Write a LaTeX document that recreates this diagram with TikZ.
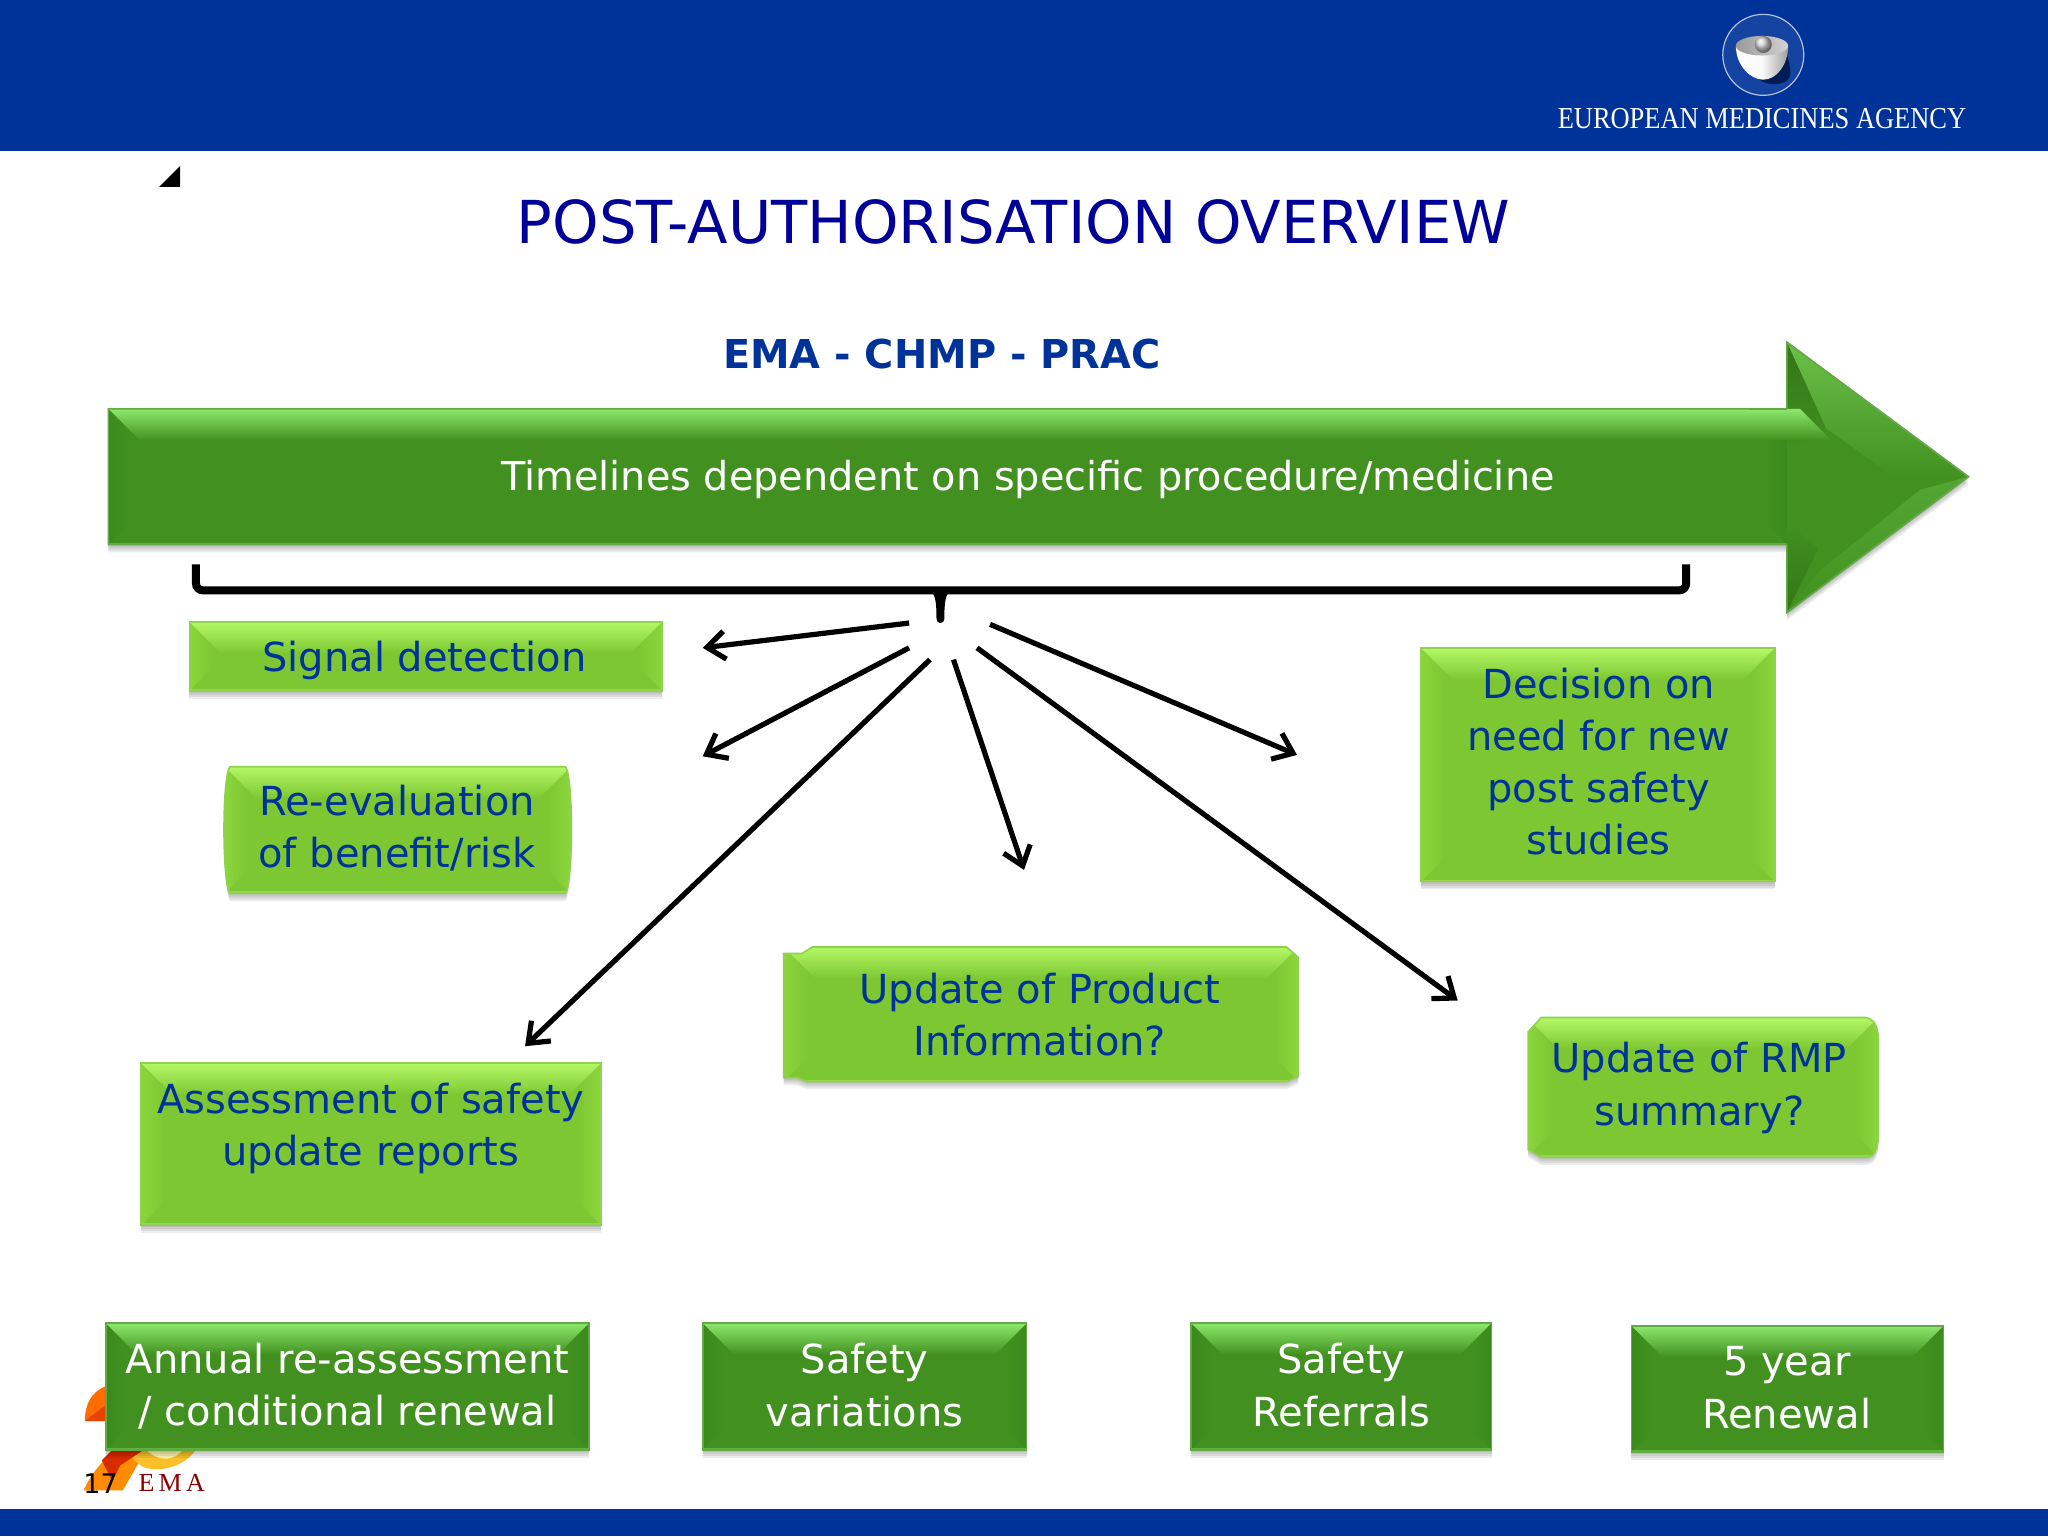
\documentclass[tikz,border=0pt]{standalone}
\usepackage{fontspec}
\setmainfont{DejaVu Sans}
\newfontfamily\logofont{Liberation Serif}
\usetikzlibrary{arrows.meta}
\definecolor{emablue}{HTML}{003399}
\definecolor{titleblue}{HTML}{000099}
\definecolor{brHi}{HTML}{B4F866}
\definecolor{brBase}{HTML}{7DC832}
\definecolor{brSide}{HTML}{8BD63C}
\definecolor{brEdge}{HTML}{8FD24E}
\definecolor{dkHi}{HTML}{8CE86C}
\definecolor{dkBase}{HTML}{429120}
\definecolor{dkSide}{HTML}{3B8A1D}
\definecolor{dkEdge}{HTML}{64A848}
\newcommand\bevelshape[6]{% outline, x1,y1,x2,y2, palette prefix
  \foreach \s in {1.5,3,4.5,6}{\fill[black,opacity=0.07,shift={(0,\s)}] #1;}
  \begin{scope}
    \clip #1;
    \fill[#6Base] (#2-5,#3-5) rectangle (#4+5,#5+5);
    \shade[left color=#6Side,right color=#6Base] (#2,#3) -- ({#2+18},{#3+18}) -- ({#2+18},{#5-18}) -- (#2,#5) -- cycle;
    \shade[right color=#6Side,left color=#6Base] (#4,#3) -- ({#4-18},{#3+18}) -- ({#4-18},{#5-18}) -- (#4,#5) -- cycle;
    \shade[top color=#6Hi,middle color=#6Hi!55!#6Base,bottom color=#6Base] (#2,#3) -- (#4,#3) -- ({#4-24},{#3+24}) -- ({#2+24},{#3+24}) -- cycle;
    \fill[#6Hi,opacity=0.4] (#2,#5-1.5) rectangle (#4,#5+4);
  \end{scope}
  \draw[#6Edge,line width=0.8pt] #1;
}
\newcommand\rectbox[5]{\bevelshape{(#1,#2) rectangle (#3,#4)}{#1}{#2}{#3}{#4}{#5}}
\tikzset{
  bluetext/.style={text=emablue,align=center,font=\fontsize{20pt}{26.1pt}\selectfont,inner sep=0pt},
  whitetext/.style={text=white,align=center,font=\fontsize{20pt}{26.1pt}\selectfont,inner sep=0pt},
  fanarrow/.style={draw=black,line width=2.6pt,-{Straight Barb[length=9pt,width=14pt,line width=2.6pt]}},
  brace/.style={draw=black,line width=4pt}
}
\begin{document}
\begin{tikzpicture}[x=0.65306pt,y=-0.65306pt]
\useasboundingbox (0,0) rectangle (1568,1176);
\fill[white] (0,0) rectangle (1568,1176);
% bands
\fill[emablue] (0,0) rectangle (1568,115.5);
\fill[emablue] (0,1155) rectangle (1568,1176);
% top logo
\draw[draw=white!70!emablue,fill=emablue!92!white,line width=0.6pt] (1350,42) circle (31);
\fill[emablue!55!black] (1368,42) .. controls (1372,54) and (1372,60) .. (1366,63) .. controls (1358,66) and (1350,64) .. (1346,60) -- cycle;
\shade[left color=white,right color=gray!75,middle color=white!95!gray] (1329,35) .. controls (1329,50) and (1340,61) .. (1350,61) .. controls (1360,61) and (1369,50) .. (1369,35) -- cycle;
\shade[left color=gray!80,right color=gray!35] (1349,35) ellipse (20 and 7.5);
\shade[ball color=gray!35] (1350,34) circle (6.5);
\node (emalogo) at (1349,91) [text=white,inner sep=0pt,xscale=0.87,transform shape,font=\logofont\fontsize{15.2pt}{16pt}\selectfont] {EUROPEAN MEDICINES AGENCY};
% small triangle
\fill[black] (138,127) -- (138,143) -- (122,143) -- cycle;
% title
\node (title) at (776,170) [text=titleblue,inner sep=0pt,font=\fontsize{29.6pt}{32pt}\selectfont] {POST-AUTHORISATION OVERVIEW};
\node (org) at (721,271) [text=emablue,inner sep=0pt,font=\bfseries\fontsize{19.9pt}{24pt}\selectfont] {EMA - CHMP - PRAC};
% bottom-left logo
\fill[orange!85!red] (65,1088) .. controls (65,1075) and (70,1065) .. (82,1061) -- (82,1088) -- cycle;
\fill[orange!60!red!90!black] (65,1088) -- (82,1075) -- (82,1088) -- cycle;
\fill[orange!90!yellow] (64,1141) .. controls (70,1128) and (78,1118) .. (90,1110) -- (112,1110) -- (94,1141) -- cycle;
\fill[yellow!45!orange!85!white] (98,1110) -- (150,1110) .. controls (142,1122) and (125,1127) .. (112,1124) .. controls (106,1122) and (100,1116) .. (98,1110) -- cycle;
\fill[yellow!30!white] (112,1110) -- (140,1110) .. controls (134,1118) and (122,1120) .. (112,1110) -- cycle;
\fill[red!60!orange!85!black] (78,1118) -- (86,1110) -- (110,1110) -- (92,1122) -- (86,1134) -- cycle;
\node (emamark) at (131.5,1135) [text=red!55!black,inner sep=0pt,font=\logofont\fontsize{13pt}{14pt}\selectfont] {E\,M\,A};
\node (pagenum) at (77,1136) [text=black,inner sep=0pt,font=\fontsize{13.5pt}{14pt}\selectfont] {17};
% big arrow
\bevelshape{(83,313) -- (1368,313) -- (1368,262) -- (1507,365) -- (1368,469) -- (1368,417) -- (83,417) -- cycle}{83}{313}{1368}{417}{dk}
\begin{scope}
  \clip (1368,262) -- (1507,365) -- (1368,469) -- cycle;
  \fill[dkBase] (1368,262) rectangle (1507,469);
  \shade[shading angle=-36.5,bottom color=dkBase,top color=dkHi!55!dkBase] (1368,262) -- (1507,365) -- (1450,365) -- (1398,328) -- cycle;
  \shade[top color=dkSide!85!black,bottom color=dkBase] (1368,262) -- (1398,328) -- (1368,345) -- cycle;
  \shade[bottom color=dkSide!85!black,top color=dkBase] (1368,469) -- (1392,420) -- (1368,400) -- cycle;
  \shade[shading angle=-143.5,bottom color=dkBase,top color=dkHi!25!dkBase] (1368,469) -- (1507,365) -- (1470,375) -- (1392,438) -- cycle;
\end{scope}
\shade[top color=dkHi,middle color=dkHi!55!dkBase,bottom color=dkBase] (1340,313) -- (1378,313) -- (1402,337) -- (1340,337) -- cycle;
\draw[dkEdge,line width=0.8pt] (1368,313) -- (1368,262) -- (1507,365) -- (1368,469) -- (1368,417);
\draw[dkEdge,line width=0.8pt] (1340,313) -- (1368,313);
\node (timeline) at (787,367) [whitetext,font=\fontsize{19.9pt}{26.1pt}\selectfont] {Timelines dependent on specific procedure/medicine};
% brace
\coordinate (braceL) at (150,432);
\coordinate (braceR) at (1291,432);
\draw[brace,rounded corners=3.5pt] (braceL) -- (150,452) -- (1291,452) -- (braceR);
\fill[black] (712,452) .. controls (716,455) and (717,460) .. (717,474) arc[start angle=180,end angle=0,radius=3] .. controls (723,460) and (724,455) .. (728,452) -- cycle;
% boxes
\rectbox{145}{476}{507}{529}{br}
\node (signal) at (325,506) [bluetext] {Signal detection};
\bevelshape{(176,587) -- (433,587) .. controls (439,595) and (439,675) .. (433,684) -- (176,684) .. controls (170,675) and (170,595) .. (176,587) -- cycle}{172}{587}{437}{684}{br}
\node (reeval) at (304,634) [bluetext] {Re-evaluation\\of benefit/risk};
\rectbox{1088}{496}{1359}{675}{br}
\node (decision) at (1224,583) [bluetext] {Decision on\\need for new\\post safety\\studies};
\bevelshape{(622,725) -- (985,725) -- (994,733) -- (994,824) -- (985,828) -- (618,828) -- (610,825) -- (600,825) -- (600,730) -- (614,730) -- cycle}{600}{725}{994}{828}{br}
\node (product) at (796,776.5) [bluetext] {Update of Product\\Information?};
\rectbox{108}{814}{460}{938}{br}
\node (assess) at (284,864) [bluetext] {Assessment of safety\\update reports};
\bevelshape{(1180,779) -- (1428,779) .. controls (1435,780) and (1438,786) .. (1438,795) -- (1438,870) .. controls (1438,880) and (1435,886) .. (1428,886) -- (1180,886) -- (1170,880) -- (1170,790) -- cycle}{1169}{779}{1438}{886}{br}
\node (rmp) at (1301,833) [bluetext] {Update of RMP\\summary?};
\rectbox{81}{1013}{451}{1110}{dk}
\node (annual) at (266,1061) [whitetext] {Annual re-assessment\\/ conditional renewal};
\rectbox{538}{1013}{786}{1110}{dk}
\node (safetyvar) at (662,1060.5) [whitetext] {Safety\\variations};
\rectbox{912}{1013}{1142}{1110}{dk}
\node (safetyref) at (1027,1060.5) [whitetext] {Safety\\Referrals};
\rectbox{1249}{1015}{1488}{1112}{dk}
\node (renewal) at (1368,1062.5) [whitetext] {5 year\\Renewal};
% fan arrows
\coordinate (s1) at (696,477); \coordinate (e1) at (538,496);
\coordinate (s2) at (696,496); \coordinate (e2) at (538,579);
\coordinate (s3) at (712,505); \coordinate (e3) at (402,801);
\coordinate (s4) at (730,505); \coordinate (e4) at (784,666);
\coordinate (s5) at (748,496); \coordinate (e5) at (1116,766);
\coordinate (s6) at (758,478); \coordinate (e6) at (993,578);
\foreach \i in {1,...,6}{\draw[fanarrow] (s\i) -- (e\i);}
\end{tikzpicture}
\end{document}
